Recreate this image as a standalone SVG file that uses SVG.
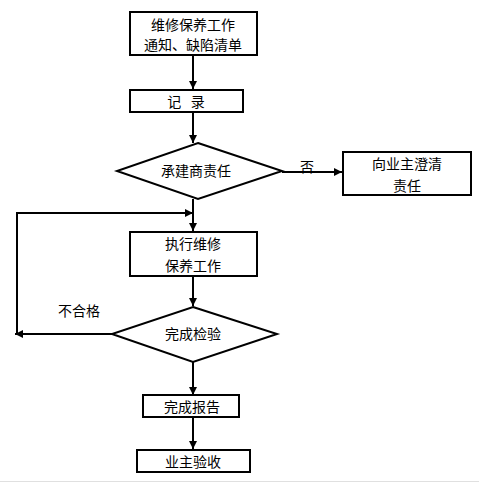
<svg xmlns="http://www.w3.org/2000/svg" width="479" height="482" viewBox="0 0 479 482">
<style>
.n{fill:#fff;stroke:#000;stroke-width:2}
.t{font-family:"Noto Sans CJK SC","Noto Sans",sans-serif;font-size:14px;fill:#000;text-anchor:middle;dominant-baseline:central}
.c{fill:none;stroke:#000;stroke-width:2}
</style>
<defs>
<marker id="a" viewBox="0 0 10 10" refX="10" refY="5" markerWidth="4" markerHeight="4" orient="auto" markerUnits="strokeWidth">
<path d="M0,0 L10,5 L0,10 z" fill="#000"/>
</marker>
</defs>
<rect width="479" height="482" fill="#fff"/>
<line x1="0" y1="481.5" x2="479" y2="481.5" stroke="#e0e0e0" stroke-width="1"/>
<g id="connectors">
<line class="c" x1="193" y1="56" x2="193" y2="89" marker-end="url(#a)"/>
<line class="c" x1="193" y1="112" x2="193" y2="143" marker-end="url(#a)"/>
<line class="c" x1="282" y1="172" x2="342" y2="172" marker-end="url(#a)"/>
<line class="c" x1="193" y1="199" x2="193" y2="231" marker-end="url(#a)"/>
<polyline class="c" points="17,334 17,213 193,213" marker-end="url(#a)"/>
<line class="c" x1="193" y1="276" x2="193" y2="306" marker-end="url(#a)"/>
<line class="c" x1="112" y1="334" x2="15" y2="334" marker-end="url(#a)"/>
<line class="c" x1="193" y1="362" x2="193" y2="395" marker-end="url(#a)"/>
<line class="c" x1="193" y1="418" x2="193" y2="449" marker-end="url(#a)"/>
<text class="t" x="307" y="166">否</text>
<text class="t" x="79" y="310">不合格</text>
</g>
<g id="n1">
<rect class="n" x="130" y="12" width="127" height="43"/>
<text class="t" x="193" y="24">维修保养工作</text>
<text class="t" x="193" y="44">通知、缺陷清单</text>
</g>
<g id="n2">
<rect class="n" x="130" y="90" width="113" height="22"/>
<text class="t" x="186" y="101" xml:space="preserve">记   录</text>
</g>
<g id="n3">
<polygon class="n" points="198,143 282,171 198,199 117,171"/>
<text class="t" x="196" y="170">承建商责任</text>
</g>
<g id="n4">
<rect class="n" x="343" y="152" width="128" height="43"/>
<text class="t" x="407" y="163">向业主澄清</text>
<text class="t" x="407" y="185">责任</text>
</g>
<g id="n5">
<rect class="n" x="130" y="232" width="127" height="44"/>
<text class="t" x="193" y="243">执行维修</text>
<text class="t" x="193" y="265">保养工作</text>
</g>
<g id="n6">
<polygon class="n" points="193,307 277,334 193,362 112,334"/>
<text class="t" x="193" y="333">完成检验</text>
</g>
<g id="n7">
<rect class="n" x="143" y="395" width="96" height="22"/>
<text class="t" x="192" y="406">完成报告</text>
</g>
<g id="n8">
<rect class="n" x="137" y="450" width="113" height="22"/>
<text class="t" x="193" y="461">业主验收</text>
</g>
</svg>
